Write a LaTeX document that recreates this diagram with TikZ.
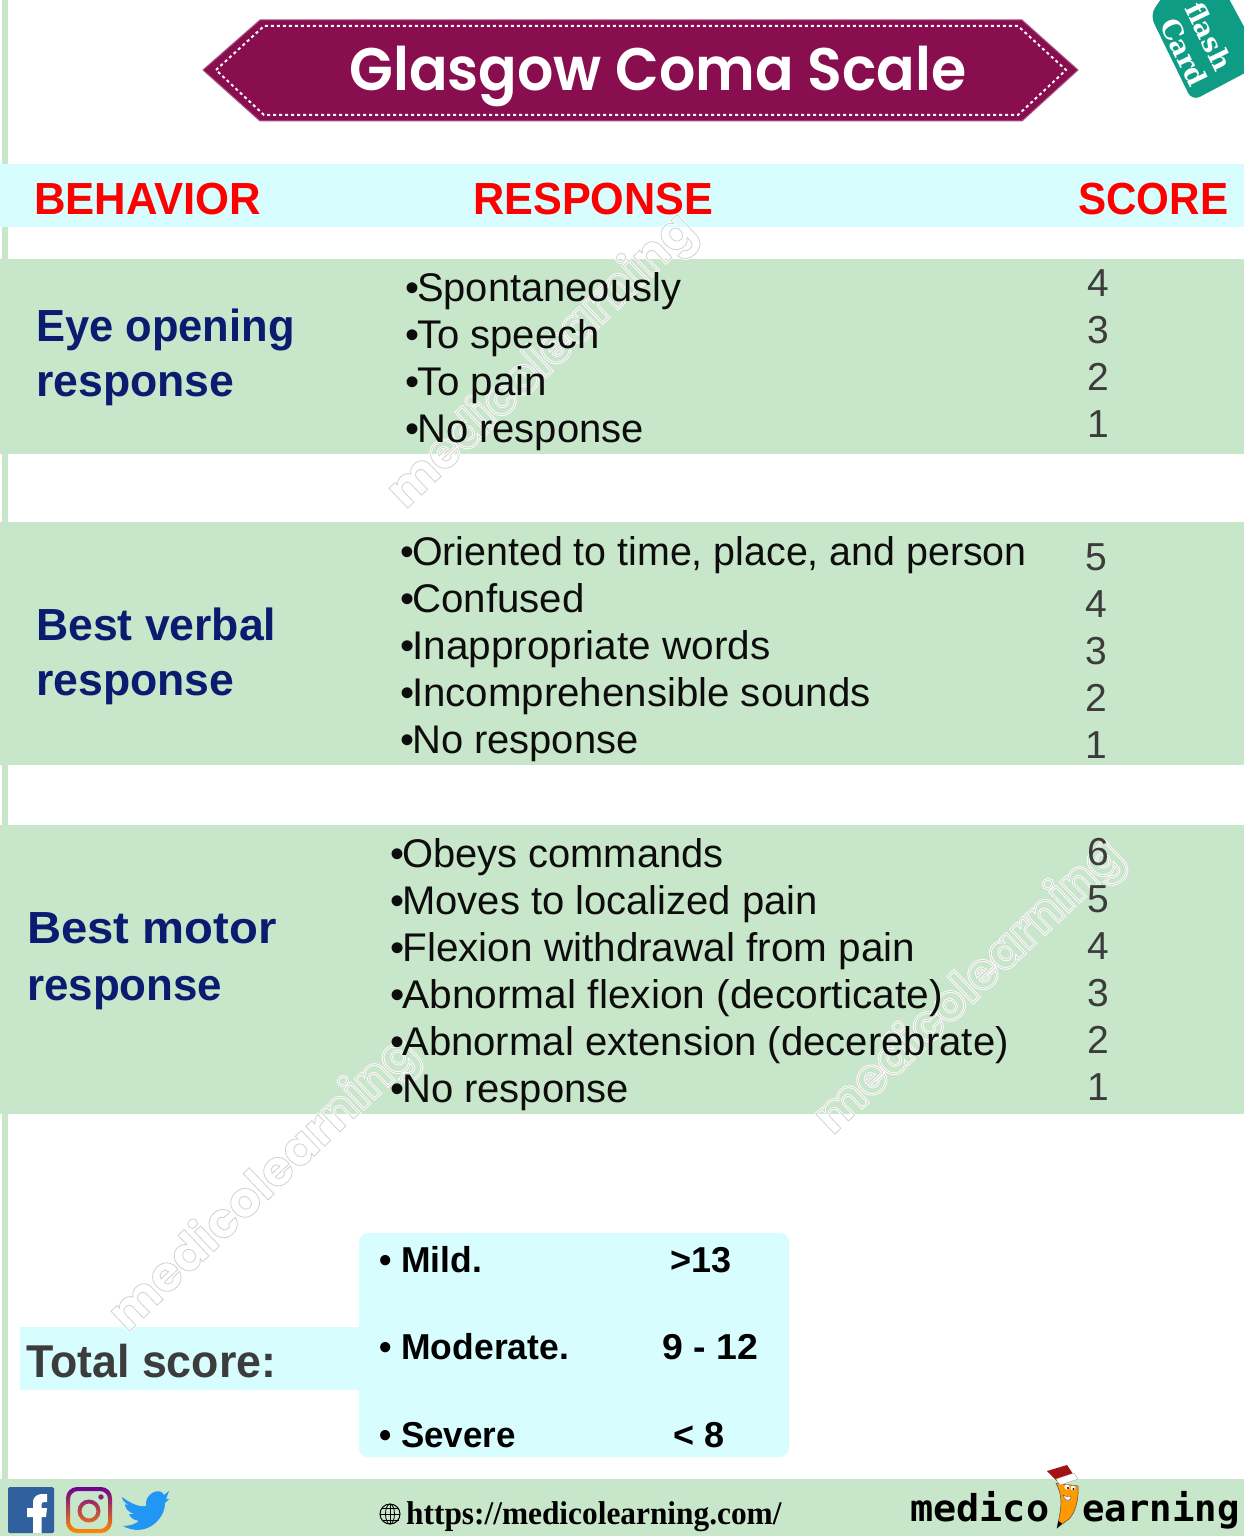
\documentclass[tikz,border=0pt]{standalone}
\usepackage{graphicx}
\usepackage{fontspec}
\setmainfont{Liberation Sans}
\newfontfamily\titlefont{Poppins}[BoldFont={Poppins SemiBold}]
\newfontfamily\headfont{Liberation Sans}
\newfontfamily\wmfont{Poppins}
\newfontfamily\urlfont{Liberation Serif}
\newfontfamily\tagfont{DejaVu Serif}
\newfontfamily\logofont{DejaVu Sans Mono}
\usetikzlibrary{calc}
\definecolor{bandgreen}{HTML}{C8E6C9}
\definecolor{bandcyan}{HTML}{D7FDFF}
\definecolor{plum}{HTML}{880E4F}
\definecolor{tagteal}{HTML}{0E9C85}
\definecolor{navy}{HTML}{0B1C70}
\definecolor{scoregrey}{HTML}{3C3C3C}
\definecolor{fbblue}{HTML}{31609F}
\definecolor{twblue}{HTML}{2196F3}
\newcommand{\sx}[2]{\scalebox{#1}[1]{#2}}
\newcommand{\bu}{•\kern-2pt }
\newcommand{\outl}[1]{\rlap{\special{pdf:code q 1 Tr 2.6 w 1 1 1 RG}#1\special{pdf:code Q}}\special{pdf:code q 1 Tr 0.8 w 0.82 0.82 0.82 RG}#1\special{pdf:code Q}}
\tikzset{
 x=1pt,y=-1pt,
 band/.style={fill=bandgreen,draw=none},
 cyanband/.style={fill=bandcyan,draw=none},
 head/.style={anchor=base west,inner sep=0pt,text=red,font=\headfont\fontsize{45}{45}\selectfont\bfseries},
 beh/.style={anchor=base west,inner sep=0pt,text=navy,font=\fontsize{45}{45}\selectfont\bfseries},
 resp/.style={anchor=base west,inner sep=0pt,text=black!95,font=\fontsize{40}{40}\selectfont},
 sc/.style={anchor=center,inner sep=0pt,text=scoregrey,font=\fontsize{39}{39}\selectfont},
 sev/.style={anchor=base west,inner sep=0pt,text=black,font=\fontsize{36}{36}\selectfont\bfseries},
 wm/.style={anchor=center,inner sep=0pt,rotate=43.5,font=\wmfont\fontsize{49}{49}\selectfont\bfseries},
 tagtext/.style={anchor=center,inner sep=0pt,rotate=-64,text=white,font=\tagfont\fontsize{27}{27}\selectfont\bfseries},
 logotext/.style={anchor=base west,inner sep=0pt,text=black,font=\logofont\fontsize{37}{37}\selectfont\bfseries},
}
\begin{document}
\begin{tikzpicture}
\useasboundingbox (0,0) rectangle (1244,1536);
\fill[white] (0,0) rectangle (1244,1536);
\fill[bandgreen] (1.5,0) rectangle (7.5,1480);
% bands
\fill[cyanband] (0,164) rectangle (1244,227);
\fill[band] (0,259) rectangle (1244,454);
\fill[band] (0,522) rectangle (1244,765);
\fill[band] (0,825) rectangle (1244,1114);
\fill[band] (0,1479) rectangle (1244,1536);
\fill[cyanband] (20,1327) rectangle (365,1390);
\fill[cyanband,rounded corners=9pt] (359,1233) rectangle (789,1457);
% watermarks
\node[wm] (wma) at (543,362) {\outl{medicolearning}};
\node[wm] (wmb) at (970,988) {\outl{medicolearning}};
\node[wm] (wmc) at (265,1185) {\outl{medicolearning}};
% title banner
\fill[plum,draw=plum!70!white,line width=1pt] (203,70)--(260,20)--(1022,20)--(1078,70)--(1022,121)--(260,121)--cycle;
\draw[white,line width=2pt,dash pattern=on 3pt off 3pt] (216,70)--(264,26)--(1018,26)--(1066,70)--(1018,115)--(264,115)--cycle;
\node[anchor=base,inner sep=0pt,text=white,font=\titlefont\fontsize{60}{60}\selectfont\bfseries] (title) at (658,91) {\sx{.95}{Glasgow Coma Scale}};
% flash tag
\fill[tagteal,rounded corners=9pt] (1170,-14)--(1150,15)--(1192,101)--(1262,64)--(1262,60)--(1222,-14)--cycle;
\node[tagtext] (flash) at (1209,36) {flash};
\node[tagtext] (cardt) at (1184,52) {Card};
% headers
\node[head] (h1) at (34,214) {\sx{.97}{BEHAVIOR}};
\node[head] (h2) at (473,214) {\sx{.96}{RESPONSE}};
\node[head] (h3) at (1078,214) {\sx{.937}{SCORE}};
% behaviours
\node[beh] (b1a) at (36,341) {\sx{.966}{Eye opening}};
\node[beh] (b1b) at (36,396) {\sx{.99}{response}};
\node[beh] (b2a) at (36,640) {\sx{.99}{Best verbal}};
\node[beh] (b2b) at (36,695) {\sx{.99}{response}};
\node[beh] (b3a) at (27,943) {\sx{1.05}{Best motor}};
\node[beh] (b3b) at (27,1000) {\sx{.975}{response}};
% eye
\node[resp] (e1) at (405,301) {\sx{.997}{\bu Spontaneously}};
\node[resp] (e2) at (405,348) {\sx{1.0}{\bu To speech}};
\node[resp] (e3) at (405,395) {\sx{1.007}{\bu To pain}};
\node[resp] (e4) at (405,442) {\sx{1.0}{\bu No response}};
\node[sc] (es4) at (1098,283) {4};
\node[sc] (es3) at (1098,330) {3};
\node[sc] (es2) at (1098,377) {2};
\node[sc] (es1) at (1098,424) {1};
% verbal
\node[resp] (v1) at (400,565) {\sx{.984}{\bu Oriented to time, place, and person}};
\node[resp] (v2) at (400,612) {\sx{1.006}{\bu Confused}};
\node[resp] (v3) at (400,659) {\sx{1.013}{\bu Inappropriate words}};
\node[resp] (v4) at (400,706) {\sx{1.006}{\bu Incomprehensible sounds}};
\node[resp] (v5) at (400,753) {\sx{.998}{\bu No response}};
\node[sc] (vs5) at (1096,557) {5};
\node[sc] (vs4) at (1096,604) {4};
\node[sc] (vs3) at (1096,651) {3};
\node[sc] (vs2) at (1096,698) {2};
\node[sc] (vs1) at (1096,745) {1};
% motor
\node[resp] (m1) at (390,867) {\sx{.997}{\bu Obeys commands}};
\node[resp] (m2) at (390,914) {\sx{1.0}{\bu Moves to localized pain}};
\node[resp] (m3) at (390,961) {\sx{1.012}{\bu Flexion withdrawal from pain}};
\node[resp] (m4) at (390,1008) {\sx{1.017}{\bu Abnormal flexion (decorticate)}};
\node[resp] (m5) at (390,1055) {\sx{1.003}{\bu Abnormal extension (decerebrate)}};
\node[resp] (m6) at (390,1102) {\sx{1.0}{\bu No response}};
\node[sc] (ms6) at (1098,852) {6};
\node[sc] (ms5) at (1098,899) {5};
\node[sc] (ms4) at (1098,946) {4};
\node[sc] (ms3) at (1098,993) {3};
\node[sc] (ms2) at (1098,1040) {2};
\node[sc] (ms1) at (1098,1087) {1};
% total
\node[anchor=base west,inner sep=0pt,text=scoregrey,font=\fontsize{46}{46}\selectfont\bfseries] (total) at (26,1377) {\sx{.972}{Total score:}};
\node[sev] (s1) at (379,1272) {\sx{.985}{• Mild.}};
\node[sev] (s2) at (379,1359) {\sx{.985}{• Moderate.}};
\node[sev] (s3) at (379,1447) {\sx{.97}{• Severe}};
\node[sev] (r1) at (670,1272) {>13};
\node[sev] (r2) at (662,1359) {\sx{1.04}{9 - 12}};
\node[sev] (r3) at (673,1447) {< 8};
% footer icons
\fill[fbblue,rounded corners=1.5pt] (8,1487) rectangle (54,1533);
\fill[white] (33,1533)--(33,1517)--(27,1517)--(27,1508)--(33,1508)--(33,1503)
 ..controls (33,1496) and (38,1494) .. (42,1494)--(47,1494)--(47,1502)--(44,1502)
 ..controls (42,1502) and (41.5,1503) .. (41.5,1505)--(41.5,1508)--(47,1508)--(46,1517)--(41.5,1517)--(41.5,1533)--cycle;
\shade[even odd rule,top color=violet!85!blue,middle color=red!80!magenta,bottom color=orange!90!yellow]
 [rounded corners=11pt] (66,1487) rectangle (112,1533)
 [rounded corners=8pt] (70,1491) rectangle (108,1529)
 [sharp corners] (89,1511) circle (11.5) (89,1511) circle (7.5) (101,1497) circle (2.7);
\fill[twblue] (122,1497)..controls (134,1506) and (142,1507) .. (146,1506)
 ..controls (144,1494) and (160,1486) .. (164,1495)
 --(169,1491)--(166,1499)--(169,1499)--(165,1503)
 ..controls (165,1520) and (145,1538) .. (123,1526)
 ..controls (130,1526) and (135,1524) .. (139,1521)
 ..controls (133,1520) and (130,1517) .. (129,1514)
 --(134,1514)..controls (128,1512) and (125,1508) .. (125,1504)
 --(130,1506)..controls (125,1503) and (122,1500) .. (122,1497)--cycle;
% url
\draw[black,line width=1pt] (390,1514) circle (10);
\draw[black,line width=.8pt] (390,1514) ellipse (4.5 and 10);
\draw[black,line width=.8pt] (380,1514)--(400,1514) (381.5,1508)--(398.5,1508) (381.5,1520)--(398.5,1520) (390,1504)--(390,1524);
\node[anchor=base west,inner sep=0pt,text=black,font=\urlfont\fontsize{33}{33}\selectfont\bfseries] (url) at (406,1524) {\sx{.95}{https://medicolearning.com/}};
% logo
\node[logotext] (lg1) at (910,1521) {\sx{1.04}{medico}};
\node[logotext] (lg2) at (1082,1521) {\sx{1.01}{earning}};
% pencil
\fill[orange!80!yellow,draw=black!70,line width=.5pt] (1056,1483)--(1078,1486)..controls (1079,1500) and (1075,1513) .. (1069,1519)--(1057,1528)..controls (1059,1518) and (1061,1510) .. (1061,1502)..controls (1061,1495) and (1059,1489) .. (1056,1483)--cycle;
\fill[black] (1057,1528)--(1058.5,1521)--(1062,1523.5)--cycle;
\fill[red!60!black!90!pink] (1047,1471)--(1067,1465)--(1073,1474)--(1057,1481)..controls (1054,1478) and (1050,1474) .. (1047,1471)--cycle;
\fill[white,draw=black!40,line width=.3pt] (1056,1479)--(1074,1473)--(1078,1479)--(1060,1485)--cycle;
\fill[white] (1067,1487) circle (2.6) (1073,1488) circle (2.4);
\fill[black] (1068,1488) circle (1.2) (1073.5,1489) circle (1.1);
\fill[white,draw=black!70,line width=.3pt] (1063,1495)..controls (1066,1497) and (1069,1497) .. (1071,1496)..controls (1071,1501) and (1066,1503) .. (1063,1495)--cycle;
\end{tikzpicture}
\end{document}
